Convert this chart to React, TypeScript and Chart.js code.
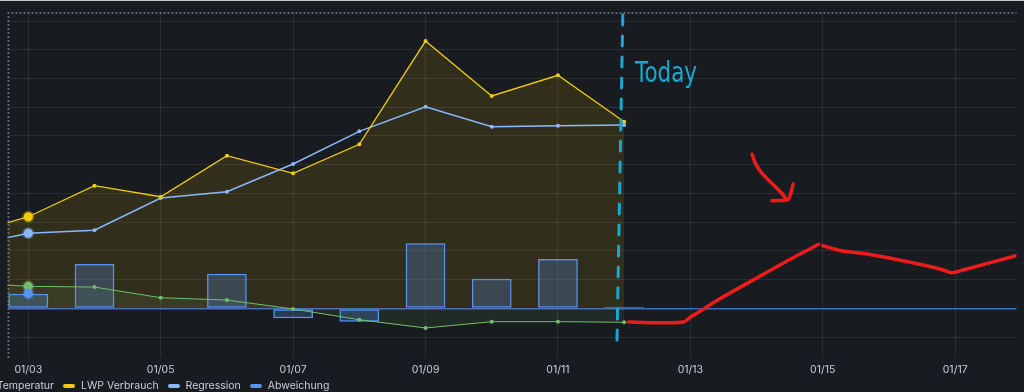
import React, { useEffect, useRef } from 'react';
import { Chart, registerables } from 'chart.js';

Chart.register(...registerables);

// ---------- data (x = day of January) ----------
const days = [2, 3, 4, 5, 6, 7, 8, 9, 10, 11, 12];
const lwpVerbrauch = [12.6, 15.95, 21.35, 19.43, 26.57, 23.5, 28.55, 46.52, 36.96, 40.55, 32.48];
const regression = [10.7, 13.07, 13.59, 19.21, 20.3, 25.12, 30.81, 35.09, 31.61, 31.79, 31.91];
const temperatur = [4.54, 3.84, 3.72, 1.86, 1.46, -0.1, -1.97, -3.41, -2.31, -2.31, -2.42];

const abweichungDays = [3, 4, 5, 6, 7, 8, 9, 10, 11, 12];
const abweichung = [2.56, 7.72, 0.1, 6.04, -1.72, -2.31, 11.33, 5.17, 8.59, 0.3];

const hoverDay = 3;

// hand-drawn forecast (red), null = pen lifted
const forecastDays = [12.065, 12.438, 12.896, 13.01, 13.135, 13.433, 14.082, 14.579, 14.938, 14.97, 15.002, 15.277, 15.675, 16.571, 16.82, 16.945, 17.119, 17.916];
const forecastValues = [-2.37, -2.49, -2.37, -1.44, -0.57, 1.58, 5.81, 8.99, 11.15, null, 10.91, 10.04, 9.46, 7.43, 6.68, 6.21, 6.68, 9.17];

// hand-drawn arrow (red)
const arrowDays = [13.932, 13.982, 14.082, 14.231, 14.381, 14.455, 14.5, 14.554, 14.479, 14.231];
const arrowValues = [26.82, 25.24, 23.5, 21.77, 20.03, 18.86, null, 21.64, 18.98, 18.74];

// hand-drawn "Today" marker (cyan)
const todayDays = [11.98, 11.89];
const todayValues = [51.04, -6.72];

const xTickDays = [3, 5, 7, 9, 11, 13, 15, 17];
const xTickLabels = ['01/03', '01/05', '01/07', '01/09', '01/11', '01/13', '01/15', '01/17'];
const yTicks = [-5, 0, 5, 10, 15, 20, 25, 30, 35, 40, 45, 50];

const legendLabels = ['Temperatur', 'LWP Verbrauch', 'Regression', 'Abweichung'];

// ---------- styles ----------
const BG = '#181b1f';
const GRID = 'rgba(204,204,220,0.1)';
const TEXT = '#ccccdc';
const YELLOW = '#F2CC0C';
const LIGHTBLUE = '#8AB8FF';
const BLUE = '#5794F2';
const GREEN = '#73BF69';
const RED = '#ee1b1b';
const CYAN = '#17a9d1';
const legendColors = [GREEN, YELLOW, LIGHTBLUE, BLUE];

const pts = (xs: number[], ys: (number | null)[]) => xs.map((x, i) => ({ x, y: ys[i] }));

const isHover = (ctx: any) => ctx.raw && ctx.raw.x === hoverDay;

function lineSeries(label: string, color: string, halo: string, values: number[], width: number, fill: any, order: number) {
  return {
    type: 'line' as const,
    label,
    data: pts(days, values),
    borderColor: color,
    backgroundColor: fill ? fill : 'transparent',
    fill: fill ? 'origin' : false,
    borderWidth: width,
    tension: 0,
    pointBackgroundColor: color,
    pointBorderColor: (ctx: any) => (isHover(ctx) ? halo : color),
    pointBorderWidth: (ctx: any) => (isHover(ctx) ? 3 : 0),
    pointRadius: (ctx: any) => (isHover(ctx) ? 4.5 : 2),
    order,
  };
}

const dottedFrame = {
  id: 'dottedFrame',
  afterDraw(chart: any) {
    const { ctx, chartArea } = chart;
    ctx.save();
    ctx.strokeStyle = 'rgba(110,128,146,0.75)';
    ctx.lineWidth = 2;
    ctx.setLineDash([2, 2]);
    ctx.beginPath();
    ctx.moveTo(chartArea.left + 1, chartArea.bottom);
    ctx.lineTo(chartArea.left + 1, chartArea.top + 1);
    ctx.lineTo(chartArea.right, chartArea.top + 1);
    ctx.stroke();
    ctx.restore();
  },
};

export default function App() {
  const ref = useRef<HTMLCanvasElement>(null);

  useEffect(() => {
    const chart = new Chart(ref.current as HTMLCanvasElement, {
      type: 'line',
      data: {
        datasets: [
          {
            type: 'line',
            label: 'forecast',
            data: pts(forecastDays, forecastValues),
            borderColor: RED,
            borderWidth: 3.5,
            borderCapStyle: 'round',
            borderJoinStyle: 'round',
            tension: 0.3,
            pointRadius: 0,
            fill: false,
            spanGaps: false,
            order: 0,
          },
          {
            type: 'line',
            label: 'arrow',
            data: pts(arrowDays, arrowValues),
            borderColor: RED,
            borderWidth: 3.5,
            borderCapStyle: 'round',
            borderJoinStyle: 'round',
            tension: 0.2,
            pointRadius: 0,
            fill: false,
            spanGaps: false,
            order: 0,
          },
          {
            type: 'line',
            label: 'today',
            data: pts(todayDays, todayValues),
            borderColor: CYAN,
            borderWidth: 3,
            borderDash: [10, 11],
            borderCapStyle: 'round',
            pointRadius: 0,
            fill: false,
            order: 1,
          },
          {
            type: 'line',
            label: 'abweichungHover',
            data: pts(abweichungDays, abweichung),
            showLine: false,
            pointBackgroundColor: BLUE,
            pointBorderColor: 'rgba(87,148,242,0.35)',
            pointBorderWidth: 3,
            pointRadius: (ctx: any) => (isHover(ctx) ? 4.5 : 0),
            order: 2,
          },
          lineSeries('LWP Verbrauch', YELLOW, 'rgba(242,204,12,0.35)', lwpVerbrauch, 1.3, 'rgba(242,204,12,0.115)', 3),
          lineSeries('Regression', LIGHTBLUE, 'rgba(138,184,255,0.35)', regression, 1.5, null, 4),
          lineSeries('Temperatur', GREEN, 'rgba(115,191,105,0.35)', temperatur, 1, 'rgba(115,191,105,0.1)', 5),
          {
            type: 'bar',
            label: 'Abweichung',
            data: pts(abweichungDays, abweichung),
            backgroundColor: 'rgba(87,148,242,0.25)',
            borderColor: BLUE,
            borderWidth: 1.5,
            borderSkipped: false,
            barPercentage: 0.6,
            categoryPercentage: 1,
            order: 6,
          },
        ] as any,
      },
      options: {
        animation: false,
        responsive: false,
        maintainAspectRatio: false,
        layout: { padding: { left: 4, top: 12, right: 0, bottom: 0 } },
        plugins: {
          legend: { display: false },
          tooltip: { enabled: false },
          filler: { drawTime: 'beforeDatasetsDraw' } as any,
        },
        scales: {
          x: {
            type: 'linear',
            min: 2.686,
            max: 17.926,
            offset: false,
            afterBuildTicks: (s: any) => {
              s.ticks = xTickDays.map((v) => ({ value: v }));
            },
            afterFit: (s: any) => {
              s.height = 34;
            },
            ticks: {
              autoSkip: false,
              maxRotation: 0,
              padding: 6,
              color: TEXT,
              font: { family: 'Inter', size: 10.5 },
              callback: (v: any) => {
                const i = xTickDays.indexOf(Number(v));
                return i >= 0 ? xTickLabels[i] : '';
              },
            },
            grid: { color: GRID, drawTicks: false, offset: false },
            border: { display: false },
          },
          y: {
            type: 'linear',
            min: -8.63,
            max: 51.57,
            afterBuildTicks: (s: any) => {
              s.ticks = yTicks.map((v) => ({ value: v }));
            },
            afterFit: (s: any) => {
              s.width = 0;
            },
            ticks: { display: false },
            grid: {
              drawTicks: false,
              offset: false,
              color: (c: any) => (c.tick && c.tick.value === 0 ? '#3d6cc0' : GRID),
              lineWidth: (c: any) => (c.tick && c.tick.value === 0 ? 1.5 : 1),
            },
            border: { display: false },
          },
        },
      },
      plugins: [dottedFrame],
    });
    return () => chart.destroy();
  }, []);

  const legendFont = { fontFamily: 'Inter', fontSize: 10.5, color: TEXT, lineHeight: '14px', whiteSpace: 'nowrap' as const };
  const marker = (c: string) => (
    <span style={{ display: 'inline-block', width: 12, height: 4, borderRadius: 2, background: c, marginRight: 6 }} />
  );

  return (
    <div style={{ position: 'fixed', left: 0, top: 0, width: 1024, height: 392, background: BG, overflow: 'hidden' }}>
      <div style={{ position: 'absolute', left: 0, top: 0, width: 1024, height: 1, background: '#c5c8cc' }} />
      <canvas ref={ref} width={1024} height={392} style={{ position: 'absolute', left: 0, top: 0, width: 1024, height: 392 }} />
      <div
        style={{
          position: 'absolute',
          left: 635,
          top: 58,
          fontFamily: 'DejaVu Sans',
          fontWeight: 400,
          fontSize: 29,
          lineHeight: '29px',
          color: CYAN,
          transform: 'scaleX(0.74)',
          transformOrigin: 'left top',
          whiteSpace: 'nowrap',
        }}
      >
        Today
      </div>
      <div style={{ position: 'absolute', top: 379, right: 970, display: 'flex', alignItems: 'center', ...legendFont }}>
        {marker(legendColors[0])}
        <span>{legendLabels[0]}</span>
      </div>
      <div style={{ position: 'absolute', top: 379, left: 63, display: 'flex', alignItems: 'center', ...legendFont }}>
        {legendLabels.slice(1).map((l, i) => (
          <span key={l} style={{ display: 'flex', alignItems: 'center', marginRight: 9 }}>
            {marker(legendColors[i + 1])}
            <span>{l}</span>
          </span>
        ))}
      </div>
    </div>
  );
}
